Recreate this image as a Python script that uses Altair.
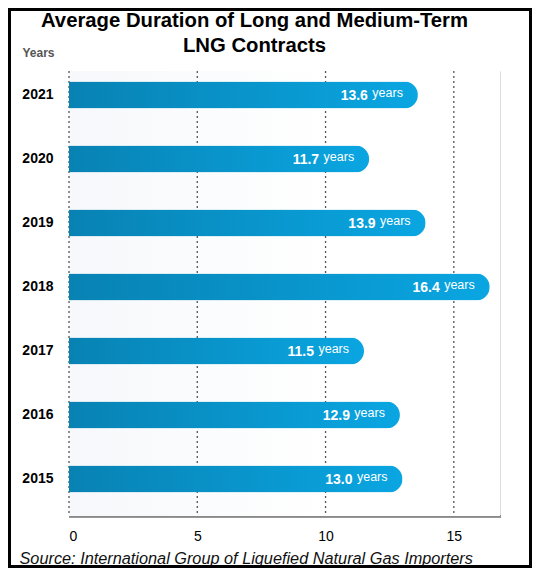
import altair as alt
import pandas as pd

years = ["2021", "2020", "2019", "2018", "2017", "2016", "2015"]
durations = [13.6, 11.7, 13.9, 16.4, 11.5, 12.9, 13.0]
x_ticks = [0, 5, 10, 15]

df = pd.DataFrame({"year": years, "value": durations})
df["label"] = df["value"].map(lambda v: f"{v:.1f}")
grid_df = pd.DataFrame({"tick": x_ticks})

W, H = 431, 445
FONT = "Liberation Sans"

x_scale = alt.Scale(domain=[0, 16.8], nice=False, zero=True)
y_scale = alt.Scale(domain=years, paddingInner=0.58, paddingOuter=0.266, align=0.31)

bg = alt.Chart(df).mark_rect(
    strokeWidth=0,
    color={"gradient": "linear", "x1": 0, "x2": 1, "y1": 0, "y2": 0,
           "stops": [{"offset": 0, "color": "#f6f8fb"},
                     {"offset": 0.35, "color": "#fbfcfd"},
                     {"offset": 0.6, "color": "#ffffff"}]}
).encode(x=alt.value(0), x2=alt.value(W), y=alt.value(0), y2=alt.value(H))

grid = alt.Chart(grid_df).mark_rule(
    color="#555555", strokeDash=[2, 3], strokeWidth=1.3
).encode(x=alt.X("tick:Q", scale=x_scale), y=alt.value(0), y2=alt.value(H))

bars = alt.Chart(df).mark_bar(
    size=27,
    cornerRadiusEnd=13.5,
    color={"gradient": "linear", "x1": 0, "x2": 1, "y1": 0, "y2": 0,
           "stops": [{"offset": 0, "color": "#0882b3"},
                     {"offset": 1, "color": "#0aa6e2"}]},
).encode(
    x=alt.X("value:Q", scale=x_scale,
            axis=alt.Axis(values=x_ticks, grid=False, ticks=False,
                          domainColor="#333333", domainDash=[1, 1], domainWidth=3,
                          labelFont=FONT, labelFontSize=14, labelColor="#000000",
                          labelPadding=13,
                          title="Source: International Group of Liquefied Natural Gas Importers",
                          titleFont=FONT, titleFontSize=16.3, titleFontStyle="italic",
                          titleFontWeight="normal", titleColor="#111111",
                          titleAnchor="start", titleAlign="left", titleBaseline="alphabetic",
                          titleX=-50, titleY=47)),
    y=alt.Y("year:N", scale=y_scale, sort=years,
            axis=alt.Axis(ticks=False, domain=False, grid=False,
                          labelFont=FONT, labelFontSize=14, labelFontWeight="bold",
                          labelColor="#000000", labelPadding=16,
                          title="Years", titleAngle=0, titleFont=FONT, titleFontSize=12,
                          titleFontWeight="bold", titleColor="#555555",
                          titleAlign="left", titleBaseline="alphabetic",
                          titleX=-47, titleY=-15)),
)

num = alt.Chart(df).mark_text(
    align="right", baseline="middle", dx=-50, dy=1,
    font=FONT, fontSize=14, fontWeight="bold", color="white"
).encode(x=alt.X("value:Q", scale=x_scale), y=alt.Y("year:N", scale=y_scale, sort=years),
         text="label:N")

unit = alt.Chart(df).mark_text(
    align="right", baseline="middle", dx=-15, dy=-2,
    font=FONT, fontSize=12.5, color="white"
).encode(x=alt.X("value:Q", scale=x_scale), y=alt.Y("year:N", scale=y_scale, sort=years),
         text=alt.value("years"))

border = alt.Chart(df).mark_rect(
    fill=None, stroke="#000000", strokeWidth=3, clip=False
).encode(x=alt.value(-61 + 1.5), x2=alt.value(W + 32 - 1.5),
         y=alt.value(-63 + 1.5), y2=alt.value(H + 52 - 1.5))

chart = alt.layer(bg, grid, bars, num, unit, border).properties(
    width=W, height=H,
    autosize=alt.AutoSizeParams(type="none"),
    padding={"left": 61, "top": 63, "right": 32, "bottom": 52},
    title=alt.TitleParams(
        ["Average Duration of Long and Medium-Term", "LNG Contracts"],
        font=FONT, fontSize=20.3, fontWeight="bold", color="#000000",
        anchor="middle", frame="group", dx=-30, offset=0, dy=48,
        baseline="top", lineHeight=25,
    ),
).configure_view(strokeWidth=0, stroke="transparent").configure(background="white")

chart.save("out.html", embed_options={"renderer": "svg", "actions": False})
